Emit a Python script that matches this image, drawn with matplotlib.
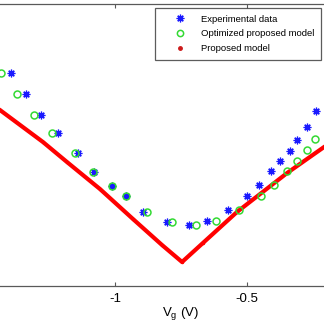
import matplotlib
matplotlib.use("Agg")
import matplotlib.pyplot as plt
from matplotlib.lines import Line2D

plt.rcParams['font.family'] = ['Liberation Sans', 'DejaVu Sans']
plt.rcParams['mathtext.fontset'] = 'custom'
plt.rcParams['mathtext.rm'] = 'Liberation Sans'
plt.rcParams['mathtext.it'] = 'Liberation Sans'

# Experimental data (blue asterisks)
exp_v = [-1.394, -1.337, -1.280, -1.216, -1.140, -1.080, -1.011, -0.958, -0.894,
         -0.803, -0.720, -0.652, -0.572, -0.500, -0.455, -0.409, -0.375, -0.337,
         -0.311, -0.273, -0.239]
exp_y = [2.13, 1.92, 1.71, 1.53, 1.33, 1.14, 1.00, 0.90, 0.74,
         0.64, 0.61, 0.65, 0.76, 0.90, 1.01, 1.15, 1.25, 1.35,
         1.46, 1.59, 1.75]

# Optimized proposed model (green circles)
opt_v = [-1.432, -1.371, -1.307, -1.239, -1.152, -1.083, -1.011, -0.958, -0.879,
         -0.784, -0.693, -0.617, -0.530, -0.447, -0.398, -0.348, -0.311, -0.273,
         -0.242]
opt_y = [2.13, 1.92, 1.71, 1.53, 1.33, 1.14, 1.00, 0.90, 0.74,
         0.64, 0.61, 0.65, 0.76, 0.90, 1.01, 1.15, 1.25, 1.36,
         1.47]

# Proposed model (red)
mod_v = [-1.46, -1.436, -1.273, -1.182, -1.057, -0.932, -0.822, -0.746,
         -0.667, -0.538, -0.348, -0.208, -0.19]
mod_y = [1.80, 1.76, 1.44, 1.24, 0.97, 0.67, 0.41, 0.24,
         0.43, 0.74, 1.13, 1.39, 1.42]

xticks = [-1, -0.5]
xticklabels = ['-1', '-0.5']

fig = plt.figure(figsize=(3.24, 3.24), dpi=100)
ax = fig.add_axes([0.0, (324 - 286) / 324, 1.0, (286 - 3.5) / 324])

ax.plot(mod_v, mod_y, color=(1, 0, 0), lw=3.0, ls='-', marker='.', ms=3,
        solid_capstyle='butt', zorder=2)
ax.plot(exp_v, exp_y, ls='none', marker=(8, 2, 0), ms=5.5, mew=0.9,
        color=(0.1, 0.1, 1.0), zorder=3)
ax.plot(opt_v, opt_y, ls='none', marker='o', ms=5, mew=1.1,
        mfc='none', mec=(0.2, 0.85, 0.2), zorder=4)

ax.set_xticks(xticks)
ax.set_xticklabels(xticklabels)
ax.set_yticks([])
ax.set_xlim(-1.43561, -0.20833)
ax.set_ylim(0, 2.825)
for s in ['left', 'right']:
    ax.spines[s].set_visible(False)
for s in ['top', 'bottom']:
    ax.spines[s].set_color('0.35')
    ax.spines[s].set_linewidth(0.9)
ax.tick_params(axis='x', direction='in', top=True, bottom=True, length=3,
               width=0.8, color='0.35', labelsize=9.5, pad=5, labelcolor='black')

fig.text(180 / 324, 1 - 313 / 324, r'V$_{\rm g}$ (V)', ha='center', va='center',
         fontsize=9.5)

handles = [
    Line2D([], [], ls='none', marker=(8, 2, 0), ms=5.5, mew=0.9, color=(0.1, 0.1, 1.0)),
    Line2D([], [], ls='none', marker='o', ms=4.5, mew=1.1, mfc='none', mec=(0.2, 0.85, 0.2)),
    Line2D([], [], ls='none', marker='.', ms=5, color=(0.8, 0.1, 0.1)),
]
labels = ['Experimental data', 'Optimized proposed model', 'Proposed model']
leg = fig.legend(handles, labels, loc='upper right', bbox_to_anchor=(321 / 324, 1 - 8 / 324),
                 bbox_transform=fig.transFigure, fontsize=6.8, frameon=True, fancybox=False,
                 borderpad=0.7, handlelength=3.8, handletextpad=0.35, labelspacing=0.62,
                 borderaxespad=0)
leg.get_frame().set_edgecolor('0.2')
leg.get_frame().set_linewidth(0.9)

fig.savefig('out.png', dpi=100)
